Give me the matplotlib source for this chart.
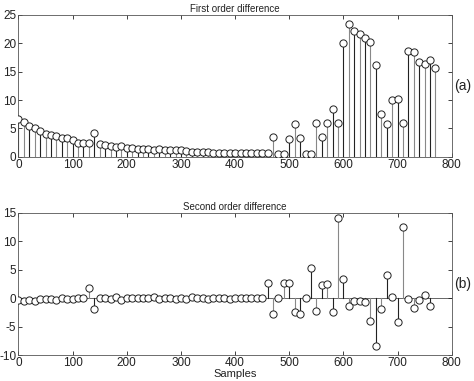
import matplotlib
matplotlib.use("Agg")
import matplotlib.pyplot as plt
import numpy as np

plt.rcParams['font.family'] = ['Liberation Sans', 'DejaVu Sans']
plt.rcParams['axes.unicode_minus'] = False

# First order difference
x1 = list(range(0, 780, 10))
y1 = [6.6, 6.1, 5.5, 5.1, 4.5, 4.0, 3.8, 3.6, 3.3, 3.3,
      3.0, 2.5, 2.5, 2.4, 4.2, 2.2, 2.0, 1.9, 1.8, 1.9,
      1.5, 1.6, 1.4, 1.4, 1.3, 1.2, 1.3, 1.2, 1.2, 1.2,
      1.1, 1.0, 0.8, 0.9, 0.9, 0.9, 0.7, 0.7, 0.7, 0.6,
      0.6, 0.6, 0.6, 0.6, 0.6, 0.6, 0.6, 3.4, 0.5, 0.5,
      3.2, 5.8, 3.3, 0.5, 0.5, 5.9, 3.5, 5.9, 8.4, 5.9,
      20.1, 23.4, 22.1, 21.6, 21.0, 20.3, 16.2, 7.6, 5.8, 10.0,
      10.1, 5.9, 18.6, 18.5, 16.7, 16.4, 17.1, 15.6]

# Second order difference
x2 = list(range(0, 770, 10))
y2 = [-0.35, -0.5, -0.3, -0.5, -0.2, -0.1, -0.1, -0.35, 0.05, -0.2,
      -0.2, 0.0, 0.0, 1.7, -2.0, 0.0, 0.0, -0.1, 0.25, -0.35,
      0.1, 0.0, 0.0, 0.0, 0.0, 0.2, -0.1, 0.05, 0.0, -0.1,
      0.0, -0.1, 0.2, 0.0, 0.05, -0.1, 0.05, 0.0, 0.0, -0.1,
      0.0, 0.0, 0.0, 0.0, 0.0, 0.0, 2.6, -2.75, 0.0, 2.6,
      2.6, -2.45, -2.75, 0.05, 5.3, -2.35, 2.3, 2.5, -2.5, 14.1,
      3.3, -1.4, -0.5, -0.5, -0.65, -4.05, -8.5, -1.95, 4.1, 0.25,
      -4.2, 12.55, -0.1, -1.8, -0.35, 0.55, -1.35]

xticks = [0, 100, 200, 300, 400, 500, 600, 700, 800]
yticks1 = [0, 5, 10, 15, 20, 25]
yticks2 = [-10, -5, 0, 5, 10, 15]

fig = plt.figure(figsize=(4.74, 3.81), dpi=100)
ax1 = fig.add_axes([0.039, 0.5887, 0.914, 0.372])
ax2 = fig.add_axes([0.039, 0.0682, 0.914, 0.3735])

stem_colors = ['#222222', '#888888']

def draw(ax, x, y, ylim, yticks, title, label, baseline):
    for i, (xi, yi) in enumerate(zip(x, y)):
        ax.plot([xi, xi], [0, yi], color=stem_colors[i % 2], lw=0.8, zorder=2)
    ax.plot(x, y, linestyle='none', marker='o', markersize=5.2,
            markerfacecolor='white', markeredgecolor='#222222',
            markeredgewidth=0.7, zorder=3)
    if baseline:
        ax.axhline(0, color='#666666', lw=0.7, zorder=1)
    ax.set_xlim(0, 800)
    ax.set_ylim(*ylim)
    ax.set_xticks(xticks)
    ax.set_yticks(yticks)
    ax.tick_params(direction='in', top=True, right=True, labelsize=8.5,
                   length=3, width=0.6, pad=1.5, colors='#222222')
    for s in ax.spines.values():
        s.set_linewidth(0.6)
        s.set_color('#555555')
    ax.set_title(title, fontsize=7, pad=2, color='#222222')
    ax.text(1.005, 0.5, label, transform=ax.transAxes, fontsize=10,
            va='center', ha='left', color='#222222')

draw(ax1, x1, y1, (0, 25), yticks1, 'First order difference', '(a)', False)
draw(ax2, x2, y2, (-10, 15), yticks2, 'Second order difference', '(b)', True)
ax2.set_xlabel('Samples', fontsize=8, labelpad=0, color='#222222')

fig.savefig('out.png', dpi=100)
